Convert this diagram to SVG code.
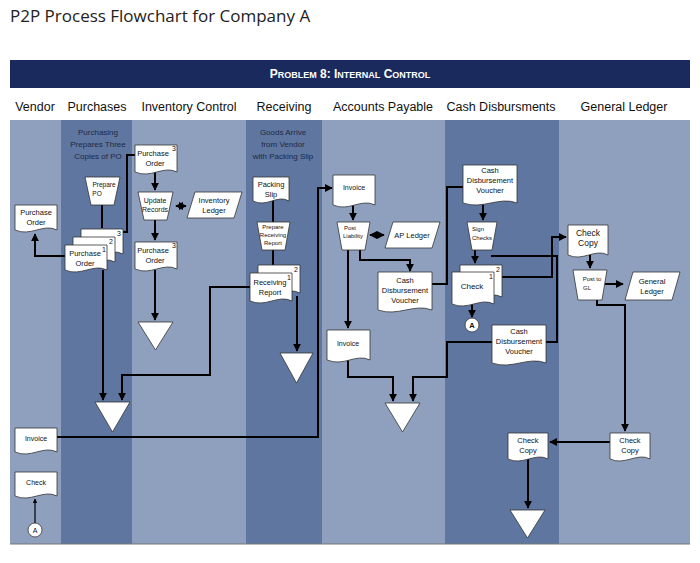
<svg xmlns="http://www.w3.org/2000/svg" width="700" height="563" viewBox="0 0 700 563">
<defs>
<marker id="ah" viewBox="0 0 10 10" refX="9" refY="5" markerWidth="4" markerHeight="4" orient="auto-start-reverse"><path d="M0,0 L10,5 L0,10 z" fill="#000"/></marker>
<style>
.t{font-family:"Liberation Sans",Arial,sans-serif;fill:#111;text-anchor:middle}
.s{fill:#fff;stroke:#333;stroke-width:0.8}
.c path,.c polyline{fill:none;stroke:#000;stroke-width:2}
.a{marker-end:url(#ah)}
.h{font-family:"Liberation Sans",Arial,sans-serif;font-size:12.5px;fill:#111;text-anchor:middle}
.lt{font-family:"Liberation Sans",Arial,sans-serif;font-size:8px;fill:#1e2a45;text-anchor:middle}
</style>
</defs>
<rect width="700" height="563" fill="#fff"/>
<text x="10" y="22" font-family="Open Sans,Liberation Sans,sans-serif" font-size="17" fill="#222">P2P Process Flowchart for Company A</text>
<rect x="10" y="60" width="680" height="28" fill="#1b2a5c"/>
<text x="350" y="78" font-family="Liberation Sans,Arial,sans-serif" font-weight="bold" fill="#fff" text-anchor="middle"><tspan font-size="12">P</tspan><tspan font-size="9">ROBLEM</tspan><tspan font-size="12"> 8: I</tspan><tspan font-size="9">NTERNAL</tspan><tspan font-size="12"> C</tspan><tspan font-size="9">ONTROL</tspan></text>
<g id="headers">
<text class="h" x="35" y="111">Vendor</text>
<text class="h" x="97" y="111">Purchases</text>
<text class="h" x="189" y="111">Inventory Control</text>
<text class="h" x="284" y="111">Receiving</text>
<text class="h" x="383" y="111">Accounts Payable</text>
<text class="h" x="501" y="111">Cash Disbursments</text>
<text class="h" x="624" y="111">General Ledger</text>
</g>
<g id="lanes">
<rect x="10" y="120" width="680" height="424" fill="#8fa0bf"/>
<rect x="61" y="120" width="71" height="424" fill="#5e76a0"/>
<rect x="246" y="120" width="76" height="424" fill="#5e76a0"/>
<rect x="445" y="120" width="114" height="424" fill="#5e76a0"/>
<line x1="10" y1="544" x2="690" y2="544" stroke="#777" stroke-width="1"/>
</g>
<g id="notes">
<text class="lt" x="98" y="135">Purchasing</text><text class="lt" x="98" y="147">Prepares Three</text><text class="lt" x="98" y="159">Copies of PO</text>
<text class="lt" x="283" y="135">Goods Arrive</text><text class="lt" x="283" y="147">from Vendor</text><text class="lt" x="283" y="159">with Packing Slip</text>
</g>
<g id="connectors" class="c">
<polyline points="65,256 35,256 35,234" class="a"/>
<polyline points="102,205 102,228"/>
<polyline points="123,232 127,232 127,155 135,155"/>
<polyline points="103,270 103,400" class="a"/>
<polyline points="250,287 210,287 210,375 122,375 122,400" class="a"/>
<polyline points="155,172 155,190" class="a"/>
<polyline points="176,206 186,206" class="a" style="marker-start:url(#ah)"/>
<polyline points="155,220 155,240" class="a"/>
<polyline points="155,270 155,320" class="a"/>
<polyline points="273,200 273,222"/>
<polyline points="273,250 273,265"/>
<polyline points="297,296 297,351" class="a"/>
<polyline points="57,437 318,437 318,188 332,188" class="a"/>
<polyline points="353,205 353,220" class="a"/>
<polyline points="370,235 384,235" class="a" style="marker-start:url(#ah)"/>
<polyline points="348,250 348,328" class="a"/>
<polyline points="360,250 360,260 410,260 410,271" class="a"/>
<polyline points="432,284 447,284 447,187 463,187"/>
<polyline points="483,203 483,220" class="a"/>
<polyline points="475,250 475,263" class="a"/>
<polyline points="491,256 557,256 557,342 546,342"/>
<polyline points="502,277 552,277 552,237 566,237" class="a"/>
<polyline points="472,304 472,317" class="a"/>
<polyline points="492,342 447,342 447,377 413,377 413,401" class="a"/>
<polyline points="348,360 348,377 393,377 393,401" class="a"/>
<polyline points="590,255 590,268" class="a"/>
<polyline points="605,284 623,284" class="a"/>
<polyline points="597,300 597,305 625,305 625,431" class="a"/>
<polyline points="610,442 550,442" class="a"/>
<polyline points="528,458 528,508" class="a"/>
<polyline points="35,523 35,499" style="stroke-width:1.2" class="a"/>
</g>
<g id="n_vendor_po"><path class="s" d="M15,205 h42 v25 c-14,-7 -26,7 -42,0 z"/><text class="t" font-size="7.5" x="36" y="215">Purchase</text><text class="t" font-size="7.5" x="36" y="225">Order</text></g>
<g id="n_prepare_po"><polygon class="s" points="85,177 120,177 114,205 91,205"/><text class="t" font-size="6.5" x="104" y="187">Prepare</text><text class="t" font-size="6.5" x="97" y="196">PO</text></g>
<g id="n_po_stack">
<path class="s" d="M81,229 h42 v25 c-14,-7 -26,7 -42,0 z"/><text class="t" font-size="7" x="119" y="236">3</text>
<path class="s" d="M73,237 h42 v25 c-14,-7 -26,7 -42,0 z"/><text class="t" font-size="7" x="111" y="244">2</text>
<path class="s" d="M65,245 h42 v25 c-14,-7 -26,7 -42,0 z"/><text class="t" font-size="7" x="104" y="252">1</text>
<text class="t" font-size="7.5" x="85" y="256">Purchase</text><text class="t" font-size="7.5" x="85" y="266">Order</text></g>
<g id="n_inv_po1"><path class="s" d="M135,145 h42 v27 c-14,-7 -26,7 -42,0 z"/><text class="t" font-size="7.5" x="153" y="156">Purchase</text><text class="t" font-size="7.5" x="155" y="166">Order</text><text class="t" font-size="7" x="174" y="151">3</text></g>
<g id="n_update"><polygon class="s" points="138,192 173,192 167,220 144,220"/><text class="t" font-size="7" x="155" y="203">Update</text><text class="t" font-size="7" x="155" y="212">Records</text></g>
<g id="n_inv_ledger"><polygon class="s" points="195,192 242,192 234,218 187,218"/><text class="t" font-size="7.5" x="214" y="203">Inventory</text><text class="t" font-size="7.5" x="214" y="213">Ledger</text></g>
<g id="n_inv_po2"><path class="s" d="M135,242 h42 v27 c-14,-7 -26,7 -42,0 z"/><text class="t" font-size="7.5" x="153" y="253">Purchase</text><text class="t" font-size="7.5" x="155" y="263">Order</text><text class="t" font-size="7" x="174" y="248">3</text></g>
<polygon id="n_tri_inv" class="s" points="138,322 173,322 155.5,350"/>
<polygon id="n_tri_pur" class="s" points="95,402 130,402 112.5,432"/>
<g id="n_packing"><path class="s" d="M253,177 h36 v24 c-12,-7 -22,7 -36,0 z"/><text class="t" font-size="7.5" x="271" y="187">Packing</text><text class="t" font-size="7.5" x="271" y="197">Slip</text></g>
<g id="n_prep_rr"><polygon class="s" points="257,222 290,222 285,250 262,250"/><text class="t" font-size="6" x="273" y="229">Prepare</text><text class="t" font-size="6" x="273" y="237">Receiving</text><text class="t" font-size="6" x="273" y="245">Report</text></g>
<g id="n_rr"><path class="s" d="M258,265 h42 v28 c-14,-7 -26,7 -42,0 z"/><text class="t" font-size="7" x="296" y="272">2</text>
<path class="s" d="M250,273 h42 v28 c-14,-7 -26,7 -42,0 z"/><text class="t" font-size="7" x="289" y="280">1</text>
<text class="t" font-size="7.5" x="270" y="285">Receiving</text><text class="t" font-size="7.5" x="270" y="295">Report</text></g>
<polygon id="n_tri_rec" class="s" points="280,353 313,353 296.5,383"/>
<g id="n_ap_invoice"><path class="s" d="M333,175 h42 v30 c-14,-7 -26,7 -42,0 z"/><text class="t" font-size="7" x="354" y="190">Invoice</text></g>
<g id="n_post_liab"><polygon class="s" points="337,222 370,222 365,250 342,250"/><text class="t" font-size="6" x="350" y="230">Post</text><text class="t" font-size="6" x="353" y="238">Liability</text></g>
<g id="n_ap_ledger"><polygon class="s" points="393,222 440,222 432,248 385,248"/><text class="t" font-size="7.5" x="412" y="238">AP Ledger</text></g>
<g id="n_ap_cdv"><path class="s" d="M378,272 h54 v38 c-18,-7 -34,7 -54,0 z"/><text class="t" font-size="7.5" x="405" y="283">Cash</text><text class="t" font-size="7.5" x="405" y="293">Disbursement</text><text class="t" font-size="7.5" x="405" y="303">Voucher</text></g>
<g id="n_ap_invoice2"><path class="s" d="M327,330 h43 v30 c-14,-7 -26,7 -43,0 z"/><text class="t" font-size="7" x="348" y="346">Invoice</text></g>
<polygon id="n_tri_ap" class="s" points="385,403 420,403 402.5,432"/>
<g id="n_cd_cdv"><path class="s" d="M463,165 h54 v38 c-18,-7 -34,7 -54,0 z"/><text class="t" font-size="7.5" x="490" y="173">Cash</text><text class="t" font-size="7.5" x="490" y="183">Disbursement</text><text class="t" font-size="7.5" x="490" y="193">Voucher</text></g>
<g id="n_sign"><polygon class="s" points="467,222 497,222 492,250 472,250"/><text class="t" font-size="6" x="478" y="231">Sign</text><text class="t" font-size="6" x="482" y="240">Checks</text></g>
<g id="n_check"><path class="s" d="M460,265 h42 v32 c-14,-7 -26,7 -42,0 z"/><text class="t" font-size="7" x="498" y="272">2</text>
<path class="s" d="M452,272 h42 v32 c-14,-7 -26,7 -42,0 z"/><text class="t" font-size="7" x="491" y="279">1</text>
<text class="t" font-size="8" x="472" y="289">Check</text></g>
<g id="n_conn_a1"><circle class="s" cx="472" cy="325" r="7"/><text class="t" font-size="7.5" font-weight="bold" x="472" y="328">A</text></g>
<g id="n_cdv2"><path class="s" d="M492,325 h54 v38 c-18,-7 -34,7 -54,0 z"/><text class="t" font-size="7.5" x="519" y="334">Cash</text><text class="t" font-size="7.5" x="519" y="344">Disbursement</text><text class="t" font-size="7.5" x="519" y="354">Voucher</text></g>
<g id="n_gl_cc"><path class="s" d="M568,225 h40 v30 c-13,-7 -25,7 -40,0 z"/><text class="t" font-size="8.5" x="588" y="236">Check</text><text class="t" font-size="8.5" x="588" y="246">Copy</text></g>
<g id="n_post_gl"><polygon class="s" points="573,270 607,270 602,300 578,300"/><text class="t" font-size="6" x="592" y="281">Post to</text><text class="t" font-size="6" x="587" y="290">GL</text></g>
<g id="n_gl"><polygon class="s" points="633,272 680,272 672,300 625,300"/><text class="t" font-size="7.5" x="652" y="284">General</text><text class="t" font-size="7.5" x="652" y="294">Ledger</text></g>
<g id="n_v_invoice"><path class="s" d="M15,428 h42 v24 c-14,-7 -26,7 -42,0 z"/><text class="t" font-size="7" x="36" y="441">Invoice</text></g>
<g id="n_v_check"><path class="s" d="M15,472 h42 v24 c-14,-7 -26,7 -42,0 z"/><text class="t" font-size="7" x="36" y="485">Check</text></g>
<g id="n_conn_a2"><circle class="s" cx="35" cy="530" r="7"/><text class="t" font-size="7" x="35" y="533">A</text></g>
<g id="n_cd_cc"><path class="s" d="M508,433 h40 v26 c-13,-7 -25,7 -40,0 z"/><text class="t" font-size="7.5" x="528" y="443">Check</text><text class="t" font-size="7.5" x="528" y="453">Copy</text></g>
<g id="n_gl_cc2"><path class="s" d="M610,433 h40 v26 c-13,-7 -25,7 -40,0 z"/><text class="t" font-size="7.5" x="630" y="443">Check</text><text class="t" font-size="7.5" x="630" y="453">Copy</text></g>
<polygon id="n_tri_cd" class="s" points="510,510 545,510 527.5,538"/>
</svg>
